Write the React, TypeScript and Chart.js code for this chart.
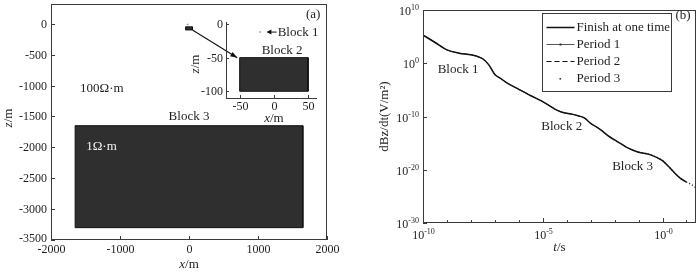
import React, { useEffect, useRef } from "react";
import { Chart, registerables } from "chart.js";
Chart.register(...registerables);

const FONT = '"Liberation Serif", "Times New Roman", Times, serif';
const INK = "#1e1e1e";
const AXIS = "#3a3a3a";
const BLOCK_FILL = "#2f2f2f";

// ---------- Panel (a) ----------
const A_X_RANGE = [-2000, 2000];
const A_Y_RANGE = [-3500, 320];
const A_X_TICKS = [-2000, -1000, 0, 1000, 2000];
const A_Y_TICKS = [0, -500, -1000, -1500, -2000, -2500, -3000, -3500];
const BLOCK3_X = [-1650, 1650];
const BLOCK3_Z = [-1650, -3300];
const BLOCK2_X = [-50, 50];
const BLOCK2_Z = [-50, -100];
const BLOCK1_X = [-20];
const BLOCK1_Z = [-12];
const ARROW_FROM = [50, -100];
const ARROW_TO = [700, -550];
const A_LABELS = ["100Ω·m", "Block 3", "1Ω·m", "(a)"];
const A_LABEL_X = [-1580, 0, -1490, 1800];
const A_LABEL_Z = [-1050, -1500, -1985, 150];

// ---------- Inset ----------
const IN_X_RANGE = [-70, 63];
const IN_Y_RANGE = [-110, 3];
const IN_X_TICKS = [-50, 0, 50];
const IN_Y_TICKS = [0, -50, -100];

// ---------- Panel (b) ----------
const TIMES = [
  1e-10, 3.2e-10, 1e-9, 3.2e-9, 1e-8, 1.8e-8, 3.2e-8, 5.6e-8, 1e-7, 1.8e-7,
  3.2e-7, 1e-6, 3.2e-6, 1e-5, 3.2e-5, 5.6e-5, 1e-4, 1.8e-4, 3.2e-4, 5.6e-4,
  1e-3, 1.8e-3, 3.2e-3, 5.6e-3, 1e-2, 1.8e-2, 3.2e-2, 5.6e-2, 0.1, 0.32,
  1, 1.8, 3.2, 5.6, 10, 18, 25,
];
const DBZ = [
  2e5, 7.9e3, 316, 79, 40, 20, 6.3, 0.5, 7.9e-3, 1.26e-3,
  2e-4, 1.26e-5, 7.9e-7, 6.3e-8, 2.5e-9, 7.9e-10, 4e-10, 2.5e-10, 1.26e-10, 5e-11,
  5e-12, 1e-12, 1.6e-13, 2e-14, 4e-15, 7.9e-16, 1.6e-16, 5e-17, 2e-17, 6.3e-18,
  5e-19, 4e-20, 2.5e-21, 2.5e-22, 5e-23, 1.26e-23, 4e-24,
];
const FINISH_RANGE = [0, 35];
const PERIOD1_RANGE = [0, 17];
const PERIOD2_RANGE = [16, 29];
const PERIOD3_RANGE = [28, 37];
const SERIES_NAMES = ["Finish at one time", "Period 1", "Period 2", "Period 3"];
const B_X_MAJOR = [1e-10, 1e-5, 1];
const B_X_MAJOR_EXP = ["-10", "-5", "-0"];
const B_X_MINOR = [1e-9, 1e-8, 1e-7, 1e-6, 1e-4, 1e-3, 1e-2, 1e-1, 10];
const B_Y_TICKS = [1e10, 1, 1e-10, 1e-20, 1e-30];
const B_Y_EXP = ["10", "0", "-10", "-20", "-30"];
const B_LABELS = ["Block 1", "Block 2", "Block 3"];
const B_LABEL_T = [2.9e-9, 6.2e-5, 0.056];
const B_LABEL_V = [0.055, 1.1e-12, 3.5e-20];

// ---------- helpers ----------
function rect(xs: number[], zs: number[]) {
  return [
    { x: xs[0], y: zs[0] },
    { x: xs[1], y: zs[0] },
    { x: xs[1], y: zs[1] },
    { x: xs[0], y: zs[1] },
    { x: xs[0], y: zs[0] },
  ];
}

function seg(ctx: CanvasRenderingContext2D, x1: number, y1: number, x2: number, y2: number) {
  ctx.beginPath();
  ctx.moveTo(x1, y1);
  ctx.lineTo(x2, y2);
  ctx.stroke();
}

function text(
  ctx: CanvasRenderingContext2D,
  s: string,
  x: number,
  y: number,
  size: number,
  align: CanvasTextAlign = "center",
  italic = false
) {
  ctx.font = `${italic ? "italic " : ""}${size}px ${FONT}`;
  ctx.textAlign = align;
  ctx.textBaseline = "middle";
  ctx.fillStyle = INK;
  ctx.fillText(s, x, y);
}

// parts: [string, italic]
function mixed(
  ctx: CanvasRenderingContext2D,
  parts: [string, boolean][],
  cx: number,
  cy: number,
  size: number
) {
  let total = 0;
  const widths = parts.map(([s, it]) => {
    ctx.font = `${it ? "italic " : ""}${size}px ${FONT}`;
    const w = ctx.measureText(s).width;
    total += w;
    return w;
  });
  let x = cx - total / 2;
  ctx.textAlign = "left";
  ctx.textBaseline = "middle";
  ctx.fillStyle = INK;
  parts.forEach(([s, it], i) => {
    ctx.font = `${it ? "italic " : ""}${size}px ${FONT}`;
    ctx.fillText(s, x, cy);
    x += widths[i];
  });
}

function rotated(ctx: CanvasRenderingContext2D, fn: () => void, x: number, y: number) {
  ctx.save();
  ctx.translate(x, y);
  ctx.rotate(-Math.PI / 2);
  fn();
  ctx.restore();
}

function pow10(
  ctx: CanvasRenderingContext2D,
  exp: string,
  x: number,
  baseline: number,
  align: "center" | "right"
) {
  ctx.font = `12px ${FONT}`;
  const bw = ctx.measureText("10").width;
  ctx.font = `8px ${FONT}`;
  const ew = ctx.measureText(exp).width;
  const total = bw + ew;
  const left = align === "center" ? x - total / 2 : x - total;
  ctx.textAlign = "left";
  ctx.textBaseline = "alphabetic";
  ctx.fillStyle = INK;
  ctx.font = `12px ${FONT}`;
  ctx.fillText("10", left, baseline);
  ctx.font = `8px ${FONT}`;
  ctx.fillText(exp, left + bw, baseline - 5);
}

function hiddenAxis(type: string, min: number, max: number, ticks: number[], size: number, horizontal: boolean) {
  return {
    type,
    min,
    max,
    grid: { display: false },
    border: { display: false },
    ticks: { display: false },
    afterBuildTicks: (s: any) => {
      s.ticks = ticks.map((v) => ({ value: v }));
    },
    afterFit: (s: any) => {
      if (horizontal) s.height = size;
      else s.width = size;
    },
  } as any;
}

const common = {
  animation: false as const,
  responsive: false,
  maintainAspectRatio: false,
  devicePixelRatio: 1,
  events: [] as any[],
  plugins: { legend: { display: false }, tooltip: { enabled: false } },
};

// ---------- plugins ----------
const panelAPlugin = {
  id: "panelA",
  afterDraw(chart: any) {
    const { ctx, chartArea: ca } = chart;
    const xs = chart.scales.x;
    const ys = chart.scales.y;
    ctx.save();
    ctx.strokeStyle = AXIS;
    ctx.lineWidth = 1;
    ctx.strokeRect(ca.left + 0.5, ca.top + 0.5, ca.right - ca.left - 1, ca.bottom - ca.top - 1);
    for (const v of A_X_TICKS) {
      const px = Math.round(xs.getPixelForValue(v)) + 0.5;
      seg(ctx, px, ca.bottom, px, ca.bottom - 4);
      text(ctx, String(v), px, ca.bottom + 10, 12);
    }
    for (const v of A_Y_TICKS) {
      const py = Math.round(ys.getPixelForValue(v)) + 0.5;
      seg(ctx, ca.left, py, ca.left + 4, py);
      text(ctx, String(v), ca.left - 4, py - (v === A_Y_TICKS[A_Y_TICKS.length - 1] ? 2 : 0), 12, "right");
    }
    mixed(ctx, [["x", true], ["/m", false]], (ca.left + ca.right) / 2, ca.bottom + 25, 13);
    rotated(ctx, () => mixed(ctx, [["z", true], ["/m", false]], 0, 0, 13), 9, 118);

    // arrow
    const x1 = xs.getPixelForValue(ARROW_FROM[0]);
    const y1 = ys.getPixelForValue(ARROW_FROM[1]);
    const x2 = xs.getPixelForValue(ARROW_TO[0]);
    const y2 = ys.getPixelForValue(ARROW_TO[1]);
    ctx.strokeStyle = "#111";
    ctx.lineWidth = 1.1;
    seg(ctx, x1, y1, x2, y2);
    const ang = Math.atan2(y2 - y1, x2 - x1);
    ctx.fillStyle = "#111";
    ctx.beginPath();
    ctx.moveTo(x2, y2);
    ctx.lineTo(x2 - 7 * Math.cos(ang) + 2.5 * Math.sin(ang), y2 - 7 * Math.sin(ang) - 2.5 * Math.cos(ang));
    ctx.lineTo(x2 - 7 * Math.cos(ang) - 2.5 * Math.sin(ang), y2 - 7 * Math.sin(ang) + 2.5 * Math.cos(ang));
    ctx.closePath();
    ctx.fill();

    A_LABELS.forEach((s, i) => {
      const px = xs.getPixelForValue(A_LABEL_X[i]);
      const py = ys.getPixelForValue(A_LABEL_Z[i]);
      const align: CanvasTextAlign = i === 0 || i === 2 ? "left" : "center";
      ctx.save();
      if (i === 2) {
        ctx.font = `13px ${FONT}`;
        ctx.textAlign = align;
        ctx.textBaseline = "middle";
        ctx.fillStyle = "#f2f2f2";
        ctx.fillText(s, px, py);
      } else {
        text(ctx, s, px, py, 13, align);
      }
      ctx.restore();
    });
    ctx.restore();
  },
};

const insetPlugin = {
  id: "inset",
  afterDraw(chart: any) {
    const { ctx, chartArea: ca } = chart;
    const xs = chart.scales.x;
    const ys = chart.scales.y;
    ctx.save();
    ctx.strokeStyle = AXIS;
    ctx.lineWidth = 1;
    seg(ctx, ca.left + 0.5, ca.top, ca.left + 0.5, ca.bottom + 0.5);
    seg(ctx, ca.left, ca.bottom + 0.5, ca.right, ca.bottom + 0.5);
    for (const v of IN_X_TICKS) {
      const px = Math.round(xs.getPixelForValue(v)) + 0.5;
      seg(ctx, px, ca.bottom, px, ca.bottom - 3);
      text(ctx, String(v), px, ca.bottom + 9, 12);
    }
    for (const v of IN_Y_TICKS) {
      const py = Math.round(ys.getPixelForValue(v)) + 0.5;
      seg(ctx, ca.left, py, ca.left + 3, py);
      text(ctx, String(v), ca.left - 3, py, 12, "right");
    }
    mixed(ctx, [["x", true], ["/m", false]], xs.getPixelForValue(0), ca.bottom + 21, 13);
    rotated(ctx, () => mixed(ctx, [["z", true], ["/m", false]], 0, 0, 13), 8, (ca.top + ca.bottom) / 2 + 4);

    // Block 2 label
    text(ctx, "Block 2", xs.getPixelForValue(12), ys.getPixelForValue(-39), 13);
    // Block 1 label with arrow
    const ax = xs.getPixelForValue(4);
    const ay = ys.getPixelForValue(-12);
    const bx = xs.getPixelForValue(-11);
    ctx.strokeStyle = "#111";
    ctx.lineWidth = 1;
    seg(ctx, ax, ay, bx + 3, ay);
    ctx.fillStyle = "#111";
    ctx.beginPath();
    ctx.moveTo(bx, ay);
    ctx.lineTo(bx + 5, ay - 2.5);
    ctx.lineTo(bx + 5, ay + 2.5);
    ctx.closePath();
    ctx.fill();
    text(ctx, "Block 1", ax + 1, ay, 13, "left");
    ctx.restore();
  },
};

const panelBPlugin = {
  id: "panelB",
  afterDraw(chart: any) {
    const { ctx, chartArea: ca } = chart;
    const xs = chart.scales.x;
    const ys = chart.scales.y;
    ctx.save();
    ctx.strokeStyle = AXIS;
    ctx.lineWidth = 1;
    ctx.strokeRect(ca.left + 0.5, ca.top + 0.5, ca.right - ca.left - 1, ca.bottom - ca.top - 1);
    B_X_MAJOR.forEach((v, i) => {
      const px = Math.round(xs.getPixelForValue(v)) + 0.5;
      seg(ctx, px, ca.bottom, px, ca.bottom - 5);
      pow10(ctx, B_X_MAJOR_EXP[i], px, ca.bottom + 16, "center");
    });
    for (const v of B_X_MINOR) {
      const px = Math.round(xs.getPixelForValue(v)) + 0.5;
      seg(ctx, px, ca.bottom, px, ca.bottom - 3);
    }
    B_Y_TICKS.forEach((v, i) => {
      const py = Math.round(ys.getPixelForValue(v)) + 0.5;
      seg(ctx, ca.left, py, ca.left + 4, py);
      pow10(ctx, B_Y_EXP[i], ca.left - 4, py + 4, "right");
    });
    mixed(ctx, [["t", true], ["/s", false]], (ca.left + ca.right) / 2, ca.bottom + 25, 13);
    rotated(ctx, () => mixed(ctx, [["dBz/dt(V/m²)", false]], 0, 0, 13), 40, (ca.top + ca.bottom) / 2);

    B_LABELS.forEach((s, i) => {
      text(ctx, s, xs.getPixelForValue(B_LABEL_T[i]), ys.getPixelForValue(B_LABEL_V[i]), 13);
    });
    text(ctx, "(b)", ca.right - 13, ca.top + 6, 13);

    // legend
    const lx = ca.right - 153.5;
    const ly = ca.top + 3.5;
    ctx.strokeStyle = AXIS;
    ctx.lineWidth = 1;
    ctx.strokeRect(lx, ly, 129, 78);
    const rows = [14, 31, 48, 65];
    SERIES_NAMES.forEach((name, i) => {
      const y = ly + rows[i];
      const s0 = lx + 4;
      const s1 = lx + 32;
      ctx.save();
      ctx.strokeStyle = "#111";
      if (i === 0) {
        ctx.lineWidth = 1.5;
        seg(ctx, s0, y, s1, y);
      } else if (i === 1) {
        ctx.strokeStyle = "#555";
        ctx.lineWidth = 1;
        seg(ctx, s0, y, s1, y);
        ctx.fillStyle = "#333";
        ctx.fillRect((s0 + s1) / 2 - 1, y - 1, 2, 2);
      } else if (i === 2) {
        ctx.lineWidth = 1;
        ctx.setLineDash([5, 3]);
        seg(ctx, s0, y, s1, y);
      } else {
        ctx.fillStyle = "#333";
        ctx.fillRect((s0 + s1) / 2 - 1, y - 0.5, 1.6, 1.6);
      }
      ctx.restore();
      text(ctx, name, lx + 34, y, 13, "left");
    });
    ctx.restore();
  },
};

function series(range: number[]) {
  const out: { x: number; y: number }[] = [];
  for (let i = range[0]; i < range[1]; i++) out.push({ x: TIMES[i], y: DBZ[i] });
  return out;
}

export default function App() {
  const aRef = useRef<HTMLCanvasElement>(null);
  const iRef = useRef<HTMLCanvasElement>(null);
  const bRef = useRef<HTMLCanvasElement>(null);

  useEffect(() => {
    document.body.style.margin = "0";
    const rectStyle = {
      borderColor: "#111",
      borderWidth: 1,
      backgroundColor: BLOCK_FILL,
      fill: "shape",
      pointRadius: 0,
      tension: 0,
    };
    const chartA = new Chart(aRef.current!, {
      type: "line",
      data: {
        datasets: [
          { ...rectStyle, data: rect(BLOCK3_X, BLOCK3_Z) } as any,
          { ...rectStyle, data: rect(BLOCK2_X, BLOCK2_Z) } as any,
          {
            data: BLOCK1_X.map((x, i) => ({ x, y: BLOCK1_Z[i] })),
            showLine: false,
            pointRadius: 1,
            pointBackgroundColor: "#aaa",
            pointBorderWidth: 0,
          } as any,
        ],
      },
      options: {
        ...common,
        layout: { padding: { left: 0, top: 4, right: 18, bottom: 0 } },
        scales: {
          x: hiddenAxis("linear", A_X_RANGE[0], A_X_RANGE[1], A_X_TICKS, 33, true),
          y: hiddenAxis("linear", A_Y_RANGE[0], A_Y_RANGE[1], A_Y_TICKS, 51, false),
        },
      } as any,
      plugins: [panelAPlugin],
    });

    const chartI = new Chart(iRef.current!, {
      type: "line",
      data: {
        datasets: [
          { ...rectStyle, data: rect(BLOCK2_X, BLOCK2_Z) } as any,
          {
            data: BLOCK1_X.map((x, i) => ({ x, y: BLOCK1_Z[i] })),
            showLine: false,
            pointRadius: 1,
            pointBackgroundColor: "#aaa",
            pointBorderWidth: 0,
          } as any,
        ],
      },
      options: {
        ...common,
        layout: { padding: { left: 0, top: 8, right: 8, bottom: 0 } },
        scales: {
          x: hiddenAxis("linear", IN_X_RANGE[0], IN_X_RANGE[1], IN_X_TICKS, 28, true),
          y: hiddenAxis("linear", IN_Y_RANGE[0], IN_Y_RANGE[1], IN_Y_TICKS, 38, false),
        },
      } as any,
      plugins: [insetPlugin],
    });

    const lineBase = { pointRadius: 0, fill: false, cubicInterpolationMode: "monotone" };
    const chartB = new Chart(bRef.current!, {
      type: "line",
      data: {
        datasets: [
          { ...lineBase, label: SERIES_NAMES[0], data: series(FINISH_RANGE), borderColor: "#111", borderWidth: 1.5 } as any,
          { ...lineBase, label: SERIES_NAMES[1], data: series(PERIOD1_RANGE), borderColor: "#555", borderWidth: 1 } as any,
          { ...lineBase, label: SERIES_NAMES[2], data: series(PERIOD2_RANGE), borderColor: "#222", borderWidth: 1, borderDash: [5, 3] } as any,
          { ...lineBase, label: SERIES_NAMES[3], data: series(PERIOD3_RANGE), borderColor: "#333", borderWidth: 1.3, borderDash: [1.2, 2] } as any,
        ],
      },
      options: {
        ...common,
        layout: { padding: { left: 0, top: 10, right: 4, bottom: 0 } },
        scales: {
          x: hiddenAxis("logarithmic", 1e-10, 25, B_X_MAJOR, 50, true),
          y: hiddenAxis("logarithmic", 1e-30, 1e10, B_Y_TICKS, 78, false),
        },
      } as any,
      plugins: [panelBPlugin],
    });

    return () => {
      chartA.destroy();
      chartI.destroy();
      chartB.destroy();
    };
  }, []);

  return (
    <div style={{ position: "relative", width: 700, height: 273, background: "#fff" }}>
      <canvas ref={aRef} width={345} height={273} style={{ position: "absolute", left: 0, top: 0 }} />
      <canvas ref={iRef} width={137} height={112} style={{ position: "absolute", left: 188, top: 14 }} />
      <canvas ref={bRef} width={355} height={273} style={{ position: "absolute", left: 345, top: 0 }} />
    </div>
  );
}
